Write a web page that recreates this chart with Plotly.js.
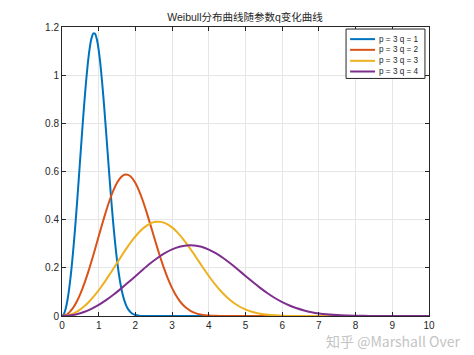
<!DOCTYPE html>
<html>
<head>
<meta charset="utf-8">
<script src="https://cdn.plot.ly/plotly-3.0.1.min.js"></script>
<style>html,body{margin:0;padding:0;background:#fff;}#chart{width:474px;height:355px;}</style>
</head>
<body>
<div id="chart"></div>
<script>
const seriesNames = ["p = 3 q = 1", "p = 3 q = 2", "p = 3 q = 3", "p = 3 q = 4"];
const seriesColors = ["#0072BD", "#D95319", "#EDB120", "#7E2F8E"];

const x1 = [0,0.05,0.1,0.15,0.2,0.25,0.3,0.35,0.4,0.45,0.5,0.55,0.6,0.65,0.7,0.75,0.8,0.85,0.9,0.95,1.0,1.05,1.1,1.15,1.2,1.25,1.3,1.35,1.4,1.45,1.5,1.55,1.6,1.65,1.7,1.75,1.8,1.9,2.0,2.1,2.2,2.5,10];
const y1 = [0,0.0075,0.0300,0.0673,0.1190,0.1846,0.2628,0.3521,0.4502,0.5546,0.6619,0.7684,0.8702,0.9632,1.0432,1.1067,1.1507,1.1728,1.1723,1.1487,1.1036,1.0393,0.9591,0.8670,0.7674,0.6649,0.5635,0.4670,0.3782,0.2991,0.2310,0.1739,0.1279,0.0915,0.0637,0.0432,0.0285,0.0114,0.0040,0.0013,0.0003,0,0];

const x2 = [0,0.1,0.2,0.3,0.4,0.5,0.6,0.7,0.8,0.9,1.0,1.1,1.2,1.3,1.4,1.5,1.6,1.7,1.8,1.9,2.0,2.1,2.2,2.3,2.4,2.5,2.6,2.7,2.8,2.9,3.0,3.1,3.2,3.3,3.4,3.5,3.6,3.8,4.0,4.2,4.4,5.0,10];
const y2 = [0,0.0038,0.0150,0.0336,0.0595,0.0923,0.1314,0.1760,0.2251,0.2773,0.3309,0.3842,0.4351,0.4816,0.5216,0.5534,0.5753,0.5864,0.5861,0.5744,0.5518,0.5197,0.4796,0.4335,0.3837,0.3325,0.2818,0.2335,0.1891,0.1496,0.1155,0.0870,0.0639,0.0457,0.0319,0.0216,0.0142,0.0057,0.0020,0.0006,0.0002,0,0];

const x3 = [0,0.15,0.3,0.45,0.6,0.75,0.9,1.05,1.2,1.35,1.5,1.65,1.8,1.95,2.1,2.25,2.4,2.55,2.7,2.85,3.0,3.15,3.3,3.45,3.6,3.75,3.9,4.05,4.2,4.35,4.5,4.65,4.8,4.95,5.1,5.25,5.4,5.7,6.0,6.3,6.6,7.5,10];
const y3 = [0,0.0025,0.0100,0.0224,0.0397,0.0615,0.0876,0.1174,0.1501,0.1849,0.2206,0.2561,0.2901,0.3211,0.3477,0.3689,0.3836,0.3909,0.3908,0.3829,0.3679,0.3464,0.3197,0.2890,0.2558,0.2216,0.1878,0.1557,0.1261,0.0997,0.0770,0.0580,0.0426,0.0305,0.0212,0.0144,0.0095,0.0038,0.0013,0.0004,0.0001,0,0];

const x4 = [0,0.2,0.4,0.6,0.8,1.0,1.2,1.4,1.6,1.8,2.0,2.2,2.4,2.6,2.8,3.0,3.2,3.4,3.6,3.8,4.0,4.2,4.4,4.6,4.8,5.0,5.2,5.4,5.6,5.8,6.0,6.2,6.4,6.6,6.8,7.0,7.2,7.6,8.0,8.4,8.8,10];
const y4 = [0,0.0019,0.0075,0.0168,0.0298,0.0461,0.0657,0.0880,0.1126,0.1386,0.1655,0.1921,0.2176,0.2408,0.2608,0.2767,0.2877,0.2932,0.2931,0.2872,0.2759,0.2598,0.2398,0.2168,0.1919,0.1662,0.1409,0.1167,0.0946,0.0748,0.0577,0.0435,0.0320,0.0229,0.0159,0.0108,0.0071,0.0028,0.0010,0.0003,0.0001,0];

const xTicks = [0,1,2,3,4,5,6,7,8,9,10];
const yTicks = [0,0.2,0.4,0.6,0.8,1,1.2];

const xs = [x1, x2, x3, x4];
const ys = [y1, y2, y3, y4];
const traces = xs.map((x, i) => ({
  x: x, y: ys[i], type: 'scatter', mode: 'lines', name: seriesNames[i], showlegend: false,
  line: {color: seriesColors[i], width: 2, shape: 'spline', smoothing: 0.6}
}));

const axisCommon = {
  showline: true, mirror: 'ticks', linecolor: '#262626', linewidth: 1,
  ticks: 'inside', ticklen: 4, tickcolor: '#262626',
  showgrid: true, gridcolor: '#e6e6e6', gridwidth: 1, zeroline: false,
  tickfont: {family: 'Liberation Sans, Arial, sans-serif', size: 10, color: '#262626'}
};

// compact MATLAB-style legend drawn in paper coordinates
const legX0 = 0.774, legX1 = 0.989, legTop = 0.993, legBottom = 0.822;
const legLine0 = 0.785, legLine1 = 0.853, legText = 0.858;
const legRows = [0.958, 0.921, 0.883, 0.846];
const shapes = [{type: 'rect', xref: 'paper', yref: 'paper', x0: legX0, x1: legX1, y0: legBottom, y1: legTop,
  line: {color: '#262626', width: 1}, fillcolor: '#ffffff', layer: 'above'}];
const annotations = [];
seriesNames.forEach((n, i) => {
  shapes.push({type: 'line', xref: 'paper', yref: 'paper', x0: legLine0, x1: legLine1, y0: legRows[i], y1: legRows[i],
    line: {color: seriesColors[i], width: 2}, layer: 'above'});
  annotations.push({text: n, xref: 'paper', yref: 'paper', x: legText, y: legRows[i], xanchor: 'left', yanchor: 'middle',
    showarrow: false, font: {family: 'Liberation Sans, Arial, sans-serif', size: 8.2, color: '#262626'}});
});
annotations.push({
  text: '知乎 @Marshall Over', xref: 'paper', yref: 'paper', x: 1.09, y: -0.045,
  xanchor: 'right', yanchor: 'top', showarrow: false,
  font: {family: 'Noto Sans CJK SC, sans-serif', size: 14, color: '#c4c4c4'}
});

const layout = {
  width: 474, height: 355,
  margin: {l: 62, r: 45, t: 27, b: 39},
  paper_bgcolor: '#ffffff', plot_bgcolor: '#ffffff',
  title: {text: 'Weibull分布曲线随参数q变化曲线', x: 0.517, xanchor: 'center', y: 0.95, yanchor: 'middle',
    font: {family: 'Liberation Sans, Noto Sans CJK SC, sans-serif', size: 10.5, color: '#262626'}},
  xaxis: Object.assign({}, axisCommon, {range: [0, 10], tickvals: xTicks, ticktext: xTicks.map(String)}),
  yaxis: Object.assign({}, axisCommon, {range: [0, 1.2], tickvals: yTicks, ticktext: yTicks.map(String)}),
  showlegend: false,
  shapes: shapes,
  annotations: annotations
};

Plotly.newPlot('chart', traces, layout, {staticPlot: true, displayModeBar: false});
</script>
</body>
</html>
